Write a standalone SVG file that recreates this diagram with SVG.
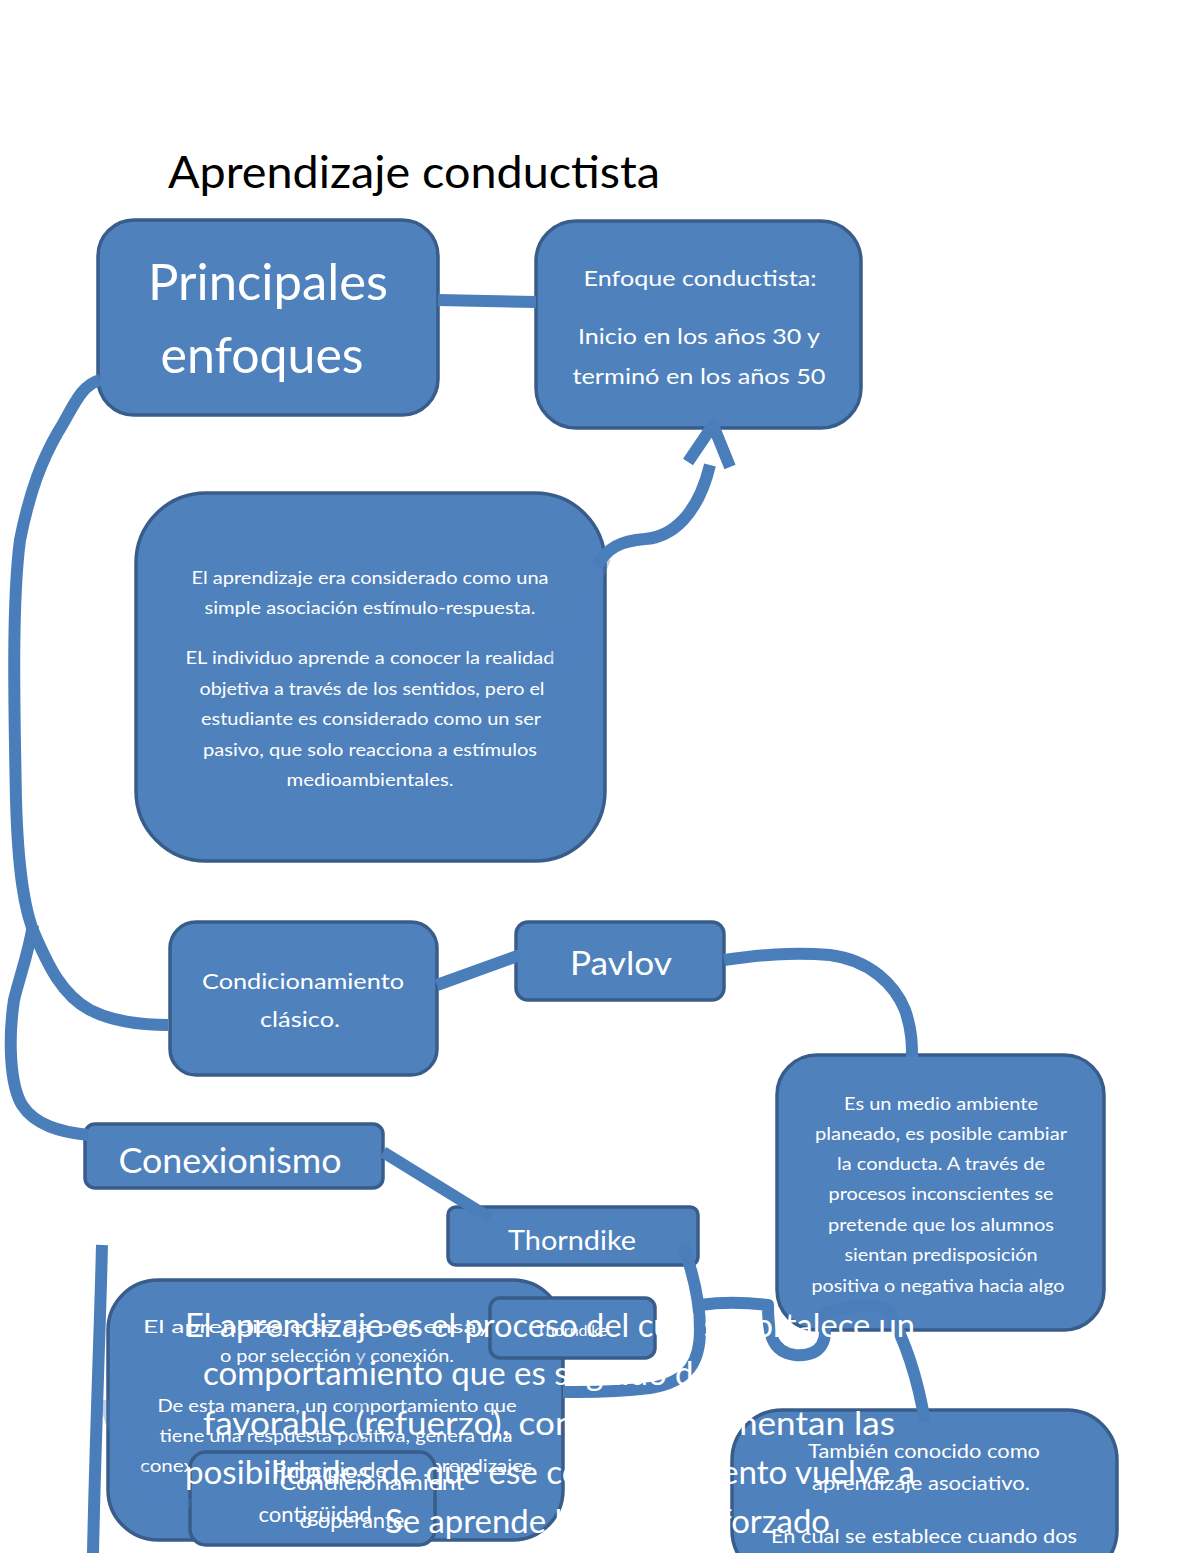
<svg xmlns="http://www.w3.org/2000/svg" width="1200" height="1553" viewBox="0 0 1200 1553">
<style>
.box{fill:#4F81BD;stroke:#385D8A;stroke-width:3.5}
.c{fill:none;stroke:#4A7EBB;stroke-width:12;stroke-linejoin:round}
.t{font-family:Lato,"Liberation Sans",sans-serif;fill:#ffffff;text-anchor:middle}
.s{font-family:Lato,"Liberation Sans",sans-serif;fill:#ffffff;text-anchor:start}
</style>
<rect width="1200" height="1553" fill="#ffffff"/>
<text x="168" y="188" font-family="Lato,'Liberation Sans',sans-serif" font-size="44" fill="#000000" textLength="492" lengthAdjust="spacingAndGlyphs">Aprendizaje conductista</text>

<g id="principales">
<rect class="box" x="98" y="220" width="340" height="195" rx="36"/>
<text class="t" x="268" y="300" font-size="50" textLength="240" lengthAdjust="spacingAndGlyphs">Principales</text>
<text class="t" x="262" y="373" font-size="50" textLength="203" lengthAdjust="spacingAndGlyphs">enfoques</text>
</g>
<g id="enfoque">
<rect class="box" x="536" y="221" width="325" height="207" rx="40"/>
<text class="t" x="700" y="286" font-size="22" textLength="233" lengthAdjust="spacingAndGlyphs">Enfoque conductista:</text>
<text class="t" x="699" y="344" font-size="22" textLength="242" lengthAdjust="spacingAndGlyphs">Inicio en los años 30 y</text>
<text class="t" x="699" y="384" font-size="22" textLength="253" lengthAdjust="spacingAndGlyphs">terminó en los años 50</text>
</g>
<g id="aprendizaje">
<rect class="box" x="136" y="493" width="469" height="368" rx="70"/>
<g class="t" font-size="18">
<text x="370" y="584" textLength="357" lengthAdjust="spacingAndGlyphs">El aprendizaje era considerado como una</text>
<text x="370" y="614" textLength="331" lengthAdjust="spacingAndGlyphs">simple asociación estímulo-respuesta.</text>
<text x="370" y="664" textLength="369" lengthAdjust="spacingAndGlyphs">EL individuo aprende a conocer la realidad</text>
<text x="372" y="695" textLength="345" lengthAdjust="spacingAndGlyphs">objetiva a través de los sentidos, pero el</text>
<text x="371" y="725" textLength="340" lengthAdjust="spacingAndGlyphs">estudiante es considerado como un ser</text>
<text x="370" y="756" textLength="334" lengthAdjust="spacingAndGlyphs">pasivo, que solo reacciona a estímulos</text>
<text x="370" y="786" textLength="167" lengthAdjust="spacingAndGlyphs">medioambientales.</text>
</g>
</g>
<g id="clasico">
<rect class="box" x="170" y="922" width="267" height="153" rx="26"/>
<text class="t" x="303" y="989" font-size="22" textLength="202" lengthAdjust="spacingAndGlyphs">Condicionamiento</text>
<text class="t" x="300" y="1027" font-size="22" textLength="80" lengthAdjust="spacingAndGlyphs">clásico.</text>
</g>
<g id="pavlov">
<rect class="box" x="516" y="922" width="208" height="78" rx="12"/>
<text class="t" x="621" y="975" font-size="32" textLength="102" lengthAdjust="spacingAndGlyphs">Pavlov</text>
</g>
<g id="medio">
<rect class="box" x="777" y="1055" width="327" height="275" rx="40"/>
<g class="t" font-size="18">
<text x="941" y="1110" textLength="194" lengthAdjust="spacingAndGlyphs">Es un medio ambiente</text>
<text x="941" y="1140" textLength="252" lengthAdjust="spacingAndGlyphs">planeado, es posible cambiar</text>
<text x="941" y="1170" textLength="208" lengthAdjust="spacingAndGlyphs">la conducta. A través de</text>
<text x="941" y="1200" textLength="225" lengthAdjust="spacingAndGlyphs">procesos inconscientes se</text>
<text x="941" y="1231" textLength="226" lengthAdjust="spacingAndGlyphs">pretende que los alumnos</text>
<text x="941" y="1261" textLength="193" lengthAdjust="spacingAndGlyphs">sientan predisposición</text>
<text x="938" y="1292" textLength="253" lengthAdjust="spacingAndGlyphs">positiva o negativa hacia algo</text>
</g>
</g>
<g id="conexionismo">
<rect class="box" x="85" y="1124" width="298" height="64" rx="10"/>
<text class="t" x="230" y="1173" font-size="34" textLength="223" lengthAdjust="spacingAndGlyphs">Conexionismo</text>
</g>
<g id="thorndike">
<rect class="box" x="448" y="1207" width="250" height="58" rx="8"/>
<text class="t" x="572" y="1250" font-size="26" textLength="128" lengthAdjust="spacingAndGlyphs">Thorndike</text>
</g>
<g id="ensayo">
<rect class="box" x="108" y="1280" width="455" height="260" rx="50"/>
<g class="t" font-size="17">
<text class="s" x="143" y="1333" textLength="445" lengthAdjust="spacingAndGlyphs">El aprendizaje se da por ensayo y error</text>
<text x="337" y="1362" textLength="234" lengthAdjust="spacingAndGlyphs">o por selección y conexión.</text>
<text x="337" y="1412" textLength="359" lengthAdjust="spacingAndGlyphs">De esta manera, un comportamiento que</text>
<text x="336" y="1442" textLength="353" lengthAdjust="spacingAndGlyphs">tiene una respuesta positiva, genera una</text>
<text x="336" y="1472" textLength="392" lengthAdjust="spacingAndGlyphs">conexión firme en términos de aprendizajes</text>
<text x="336" y="1496" textLength="148" lengthAdjust="spacingAndGlyphs">(ley del esfuerzo)</text>
</g>
</g>
<g id="thorndike2">
<rect class="box" x="490" y="1298" width="165" height="60" rx="10"/>
<text class="t" x="572" y="1336" font-size="16">Thorndike</text>
</g>
<g id="operante">
<rect class="box" x="190" y="1452" width="245" height="93" rx="16"/>
<g class="t" font-size="22">
<text x="330" y="1478">Principio de</text>
<text x="372" y="1490" textLength="185" lengthAdjust="spacingAndGlyphs">Condicionamient</text>
<text x="315" y="1522">contigüidad</text>
<text x="352" y="1528">o operante</text>
</g>
</g>
<g id="asociativo">
<rect class="box" x="732" y="1410" width="385" height="170" rx="50"/>
<g class="t" font-size="20">
<text x="924" y="1458" textLength="232" lengthAdjust="spacingAndGlyphs">También conocido como</text>
<text x="921" y="1490" textLength="218" lengthAdjust="spacingAndGlyphs">aprendizaje asociativo.</text>
<text x="924" y="1543" textLength="306" lengthAdjust="spacingAndGlyphs">En cual se establece cuando dos</text>
</g>
</g>

<g id="connectors">
<path class="c" d="M438,300 L536,302"/>
<path class="c" d="M597,566 C607,548 620,541 645,539 C672,537 698,515 710,465"/>
<path class="c" d="M688,462 L713,425 L730,467"/>
<path class="c" d="M605,558 L562,672 M546,622 L562,672 L592,627" stroke-opacity="0.35"/>
<path class="c" d="M100,380 C80,385 72,410 58,432 C42,460 30,490 20,540 C12,600 14,700 16,800 C18,870 24,910 35,935 C48,965 62,995 90,1010 C110,1020 135,1025 168,1025"/>
<path class="c" d="M33,925 C28,955 20,975 14,1000 C8,1040 10,1085 22,1105 C35,1125 60,1132 88,1135"/>
<path class="c" d="M437,985 L520,955"/>
<path class="c" d="M724,960 C760,955 790,952 830,955 C870,960 895,985 905,1010 C912,1030 912,1045 912,1057"/>
<path class="c" d="M383,1152 L490,1218"/>
<path class="c" d="M683,1245 C692,1270 700,1300 700,1330 C700,1360 690,1382 650,1388 C610,1393 580,1392 563,1392"/>
<path class="c" d="M700,1305 C720,1302 745,1302 768,1305 C768,1330 770,1352 795,1355 C822,1357 830,1340 822,1315 C850,1305 870,1302 888,1310 C905,1340 918,1380 925,1422"/>
<path class="c" d="M102,1245 C100,1330 95,1450 93,1553"/>
<path class="c" d="M105,1400 C120,1460 150,1495 190,1505" stroke-opacity="0.35"/>
<path class="c" d="M360,1340 L360,1450" stroke-opacity="0.3"/>
</g>

<g id="overlay-text" class="s" font-size="33">
<text x="185" y="1337" textLength="730" lengthAdjust="spacingAndGlyphs">El aprendizaje es el proceso del cual se fortalece un</text>
<text x="203" y="1385">comportamiento que es seguido de un resultado</text>
<text x="203" y="1435" textLength="692" lengthAdjust="spacingAndGlyphs">favorable (refuerzo), con lo cual aumentan las</text>
<text x="185" y="1484" textLength="730" lengthAdjust="spacingAndGlyphs">posibilidades de que ese comportamiento vuelve a</text>
<text x="385" y="1533" textLength="445" lengthAdjust="spacingAndGlyphs">Se aprende lo que es reforzado</text>
</g>
</svg>
